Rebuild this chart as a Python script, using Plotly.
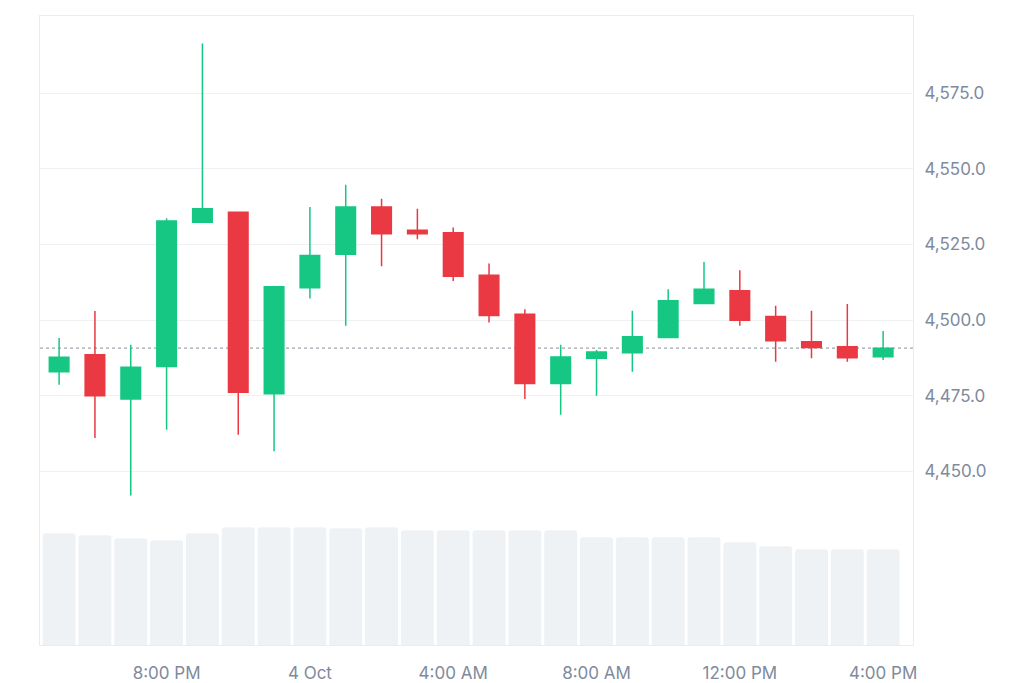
import pandas as pd
import plotly.graph_objects as go

# ---- data ----
times = pd.date_range("2023-10-03 17:00", periods=24, freq="h")
opens = [4482.9, 4488.5, 4473.9, 4484.6, 4532.4, 4535.7, 4475.6, 4510.7, 4521.8, 4537.4,
         4529.7, 4528.9, 4514.8, 4501.9, 4479.0, 4487.4, 4489.2, 4494.2, 4505.5, 4509.7,
         4501.2, 4492.8, 4491.2, 4487.9]
highs = [4494.1, 4503.0, 4491.8, 4533.7, 4591.5, 4535.7, 4511.0, 4537.4, 4544.8, 4540.1,
         4536.8, 4530.6, 4518.7, 4503.6, 4491.8, 4490.1, 4503.1, 4510.2, 4519.2, 4516.5,
         4504.7, 4503.1, 4505.3, 4496.4]
lows = [4478.6, 4461.0, 4442.0, 4463.7, 4532.4, 4462.1, 4456.6, 4507.1, 4498.1, 4517.8,
        4526.7, 4512.9, 4499.2, 4473.9, 4468.7, 4475.0, 4482.9, 4494.2, 4505.5, 4498.1,
        4486.2, 4487.4, 4486.2, 4486.8]
closes = [4487.7, 4475.0, 4484.4, 4532.8, 4536.8, 4476.1, 4511.0, 4521.4, 4537.4, 4528.6,
          4528.6, 4514.5, 4501.5, 4479.0, 4487.8, 4489.4, 4494.5, 4506.4, 4510.2, 4499.9,
          4493.2, 4490.9, 4487.5, 4490.7]
volumes = [112, 110, 107, 105, 112, 118, 118, 118, 117, 118, 115, 115, 115, 115, 115,
           108, 108, 108, 108, 103, 99, 96, 96, 96]

price_ticks = [4450, 4475, 4500, 4525, 4550, 4575]
price_tick_labels = ["4,450.0", "4,475.0", "4,500.0", "4,525.0", "4,550.0", "4,575.0"]
x_tick_vals = ["2023-10-03 20:00", "2023-10-04 00:00", "2023-10-04 04:00",
               "2023-10-04 08:00", "2023-10-04 12:00", "2023-10-04 16:00"]
x_tick_labels = ["8:00 PM", "4 Oct", "4:00 AM", "8:00 AM", "12:00 PM", "4:00 PM"]

GREEN = "#16C784"
RED = "#EA3943"
GRID = "#EFF2F5"
TEXT = "#808A9D"

fig = go.Figure()

fig.add_trace(go.Bar(
    x=times, y=volumes, yaxis="y2",
    marker=dict(color="#EFF2F5", line=dict(width=0), cornerradius=3),
    width=0.92 * 3600 * 1000,
    hoverinfo="skip", showlegend=False,
))

fig.add_trace(go.Candlestick(
    x=times, open=opens, high=highs, low=lows, close=closes,
    increasing=dict(line=dict(color=GREEN, width=1.5), fillcolor=GREEN),
    decreasing=dict(line=dict(color=RED, width=1.5), fillcolor=RED),
    whiskerwidth=0, showlegend=False,
))

fig.add_shape(type="line", xref="paper", x0=0, x1=1, yref="y", y0=closes[-1], y1=closes[-1],
              line=dict(color="#A0A6B0", width=1.2, dash="dot"), layer="below")

fig.update_layout(
    width=1008, height=675,
    margin=dict(l=32, r=103, t=8, b=38),
    paper_bgcolor="white", plot_bgcolor="white",
    font=dict(family="Inter, Roboto, sans-serif", size=17, color=TEXT),
    boxgap=0.22,
    showlegend=False,
    xaxis=dict(
        range=["2023-10-03 16:28", "2023-10-04 16:50"],
        rangeslider=dict(visible=False),
        tickvals=x_tick_vals, ticktext=x_tick_labels,
        showgrid=False, zeroline=False, automargin=False,
        showline=True, linecolor="#E9ECF0", linewidth=1, mirror=True,
        ticks="", ticklabelstandoff=13,
    ),
    yaxis=dict(
        range=[4392.5, 4600.6], side="right",
        tickvals=price_ticks, ticktext=price_tick_labels,
        showgrid=True, gridcolor=GRID, gridwidth=1, zeroline=False, automargin=False,
        showline=True, linecolor="#E9ECF0", linewidth=1, mirror=True,
        ticks="", ticklabelstandoff=7,
    ),
    yaxis2=dict(
        range=[0, 631], overlaying="y", side="right", automargin=False,
        showticklabels=False, showgrid=False, zeroline=False, showline=False,
    ),
)

fig.write_html("out.html")
